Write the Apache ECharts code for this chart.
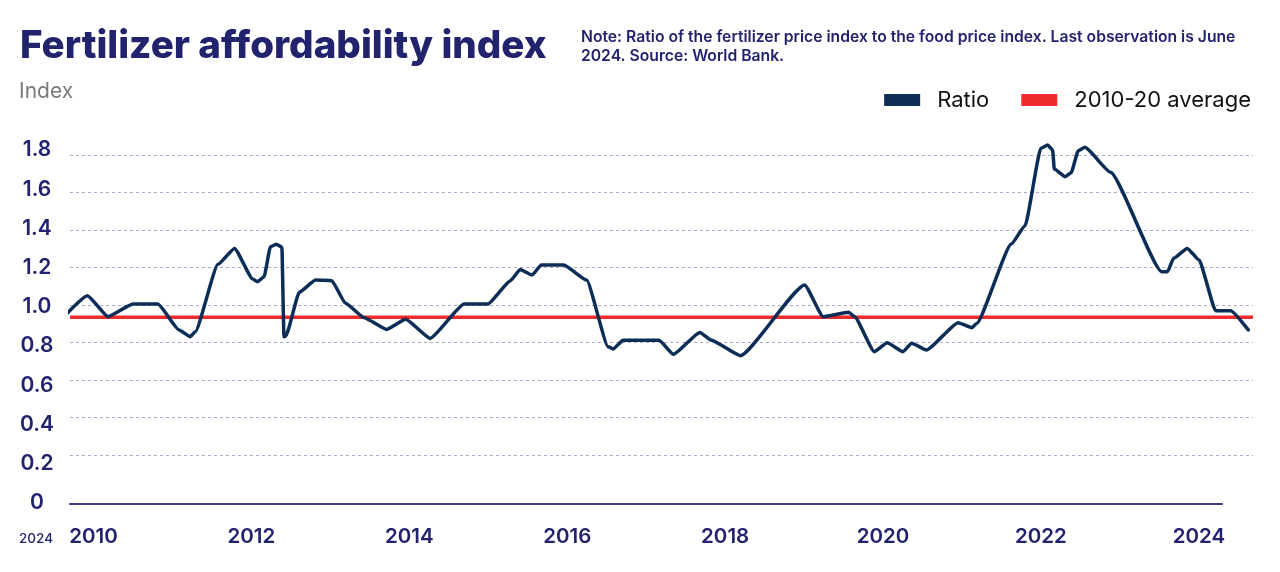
<!DOCTYPE html>
<html>
<head>
<meta charset="utf-8">
<script src="https://cdn.jsdelivr.net/npm/echarts@6/dist/echarts.min.js"></script>
<style>
html,body{margin:0;padding:0;background:#fff;}
#chart{width:1280px;height:572px;}
</style>
</head>
<body>
<div id="chart"></div>
<script>
// ---- data ----
const TITLE = 'Fertilizer affordability index';
const SUBTITLE = 'Index';
const NOTE = 'Note: Ratio of the fertilizer price index to the food price index. Last observation is June\n2024. Source: World Bank.';
const CORNER_LABEL = '2024';
const seriesNames = ['Ratio', '2010-20 average'];
const xTickYears = [2010, 2012, 2014, 2016, 2018, 2020, 2022, 2024];
const yTickValues = [0, 0.2, 0.4, 0.6, 0.8, 1.0, 1.2, 1.4, 1.6, 1.8];
const average2010_20 = 0.935;
// [year position, ratio]
const ratioYears = [
  2009.612, 2009.923, 2010.184, 2010.499, 2010.814, 2011.084, 2011.225, 2011.289,
  2011.576, 2011.786, 2012.015, 2012.076, 2012.160, 2012.241, 2012.317, 2012.386,
  2012.412, 2012.436, 2012.607, 2012.812, 2013.017, 2013.192, 2013.428, 2013.713,
  2013.953, 2014.264, 2014.694, 2014.994, 2015.281, 2015.405, 2015.555, 2015.671,
  2015.956, 2016.246, 2016.517, 2016.581, 2016.707, 2017.163, 2017.346, 2017.680,
  2017.820, 2018.194, 2019.007, 2019.241, 2019.566, 2019.640, 2019.890, 2020.053,
  2020.253, 2020.362, 2020.552, 2020.951, 2021.126, 2021.186, 2021.625, 2021.799,
  2021.999, 2022.084, 2022.148, 2022.169, 2022.308, 2022.383, 2022.473, 2022.557,
  2022.882, 2023.529, 2023.605, 2023.680, 2023.853, 2024.003, 2024.213, 2024.403,
  2024.627
];
const ratioValues = [
  0.932, 1.050, 0.938, 1.005, 1.005, 0.867, 0.831, 0.858,
  1.217, 1.302, 1.139, 1.124, 1.151, 1.311, 1.324, 1.308,
  0.831, 0.835, 1.068, 1.133, 1.130, 1.009, 0.932, 0.870,
  0.924, 0.822, 1.005, 1.005, 1.130, 1.190, 1.160, 1.213,
  1.213, 1.133, 0.778, 0.765, 0.812, 0.812, 0.737, 0.854,
  0.813, 0.730, 1.107, 0.938, 0.961, 0.938, 0.751, 0.799,
  0.751, 0.796, 0.760, 0.906, 0.879, 0.902, 1.325, 1.423,
  1.836, 1.853, 1.827, 1.725, 1.684, 1.706, 1.823, 1.841,
  1.708, 1.178, 1.178, 1.249, 1.302, 1.240, 0.970, 0.970,
  0.867
];

// ---- layout / style ----
const NAVY = '#22236d';
const LINE = '#0c2d56';
const RED = '#ef2b2b';
const GRIDCOL = '#a9a9cc';
const X_MIN = 2009.702, X_MAX = 2024.686;
const FONT = 'Inter';

const ratioData = ratioYears.map((x, i) => [x, ratioValues[i]]);
const avgData = [[X_MIN, average2010_20], [X_MAX, average2010_20]];
const splitColors = yTickValues.map((v, i) => (i === 0 ? 'rgba(0,0,0,0)' : GRIDCOL));

const chart = echarts.init(document.getElementById('chart'), null, {renderer: 'canvas'});
chart.setOption({
  animation: false,
  backgroundColor: '#fff',
  textStyle: {fontFamily: FONT},
  title: [
    {text: TITLE, left: 15, top: 22, textStyle: {fontFamily: FONT, fontSize: 38.5, fontWeight: 800, color: NAVY}},
    {text: SUBTITLE, left: 14, top: 76, textStyle: {fontFamily: FONT, fontSize: 21, fontWeight: 400, color: '#7a7a7a'}},
    {text: NOTE, left: 576, top: 23, textStyle: {fontFamily: FONT, fontSize: 15.7, fontWeight: 600, color: NAVY, lineHeight: 19}},
    {text: CORNER_LABEL, left: 14, top: 527, textStyle: {fontFamily: FONT, fontSize: 13.5, fontWeight: 500, color: NAVY}}
  ],
  legend: {
    data: seriesNames,
    right: 24, top: 84,
    icon: 'rect', itemWidth: 36, itemHeight: 12, itemGap: 32,
    textStyle: {fontFamily: FONT, fontSize: 22, color: '#111', padding: [0, 0, 0, 12]}
  },
  grid: [
    {left: 63, right: 30, top: 150, bottom: 69, containLabel: false},
    {left: 70, right: 27, top: 155, bottom: 79.5, containLabel: false},
    {left: 70, right: 58, top: 140, bottom: 68.5, containLabel: false}
  ],
  xAxis: [
    {gridIndex: 0, type: 'value', show: false, min: X_MIN, max: X_MAX},
    {gridIndex: 1, type: 'value', min: X_MIN, max: X_MAX,
      axisLine: {show: false}, axisTick: {show: false}, splitLine: {show: false},
      axisLabel: {customValues: xTickYears, margin: 34, fontFamily: FONT, fontSize: 20.5, fontWeight: 600, color: NAVY,
        formatter: v => String(Math.round(v))}},
    {gridIndex: 2, type: 'value', min: 0, max: 1,
      axisLine: {show: true, lineStyle: {color: '#3d3d86', width: 2}},
      axisTick: {show: false}, axisLabel: {show: false}, splitLine: {show: false}}
  ],
  yAxis: [
    {gridIndex: 0, type: 'value', min: 0, max: 1.8, interval: 0.2,
      axisLine: {show: false}, axisTick: {show: false}, splitLine: {show: false},
      axisLabel: {align: 'center', margin: 26, fontFamily: FONT, fontSize: 21, fontWeight: 600, color: NAVY,
        formatter: v => (v === 0 ? '0' : v.toFixed(1))}},
    {gridIndex: 1, type: 'value', min: 0, max: 1.8, interval: 0.2,
      axisLine: {show: false}, axisTick: {show: false}, axisLabel: {show: false},
      splitLine: {show: true, lineStyle: {color: splitColors, type: [3, 3], width: 1}}},
    {gridIndex: 2, type: 'value', show: false, min: 0, max: 1}
  ],
  series: [
    {name: seriesNames[0], type: 'line', xAxisIndex: 1, yAxisIndex: 1, data: ratioData,
      showSymbol: false, smooth: 0.15, smoothMonotone: 'x', clip: false, z: 4,
      itemStyle: {color: LINE}, lineStyle: {color: LINE, width: 3.5, cap: 'round', join: 'round'}},
    {name: seriesNames[1], type: 'line', xAxisIndex: 1, yAxisIndex: 1, data: avgData,
      showSymbol: false, clip: false, z: 3,
      itemStyle: {color: RED}, lineStyle: {color: RED, width: 3.5}}
  ]
});
</script>
</body>
</html>
